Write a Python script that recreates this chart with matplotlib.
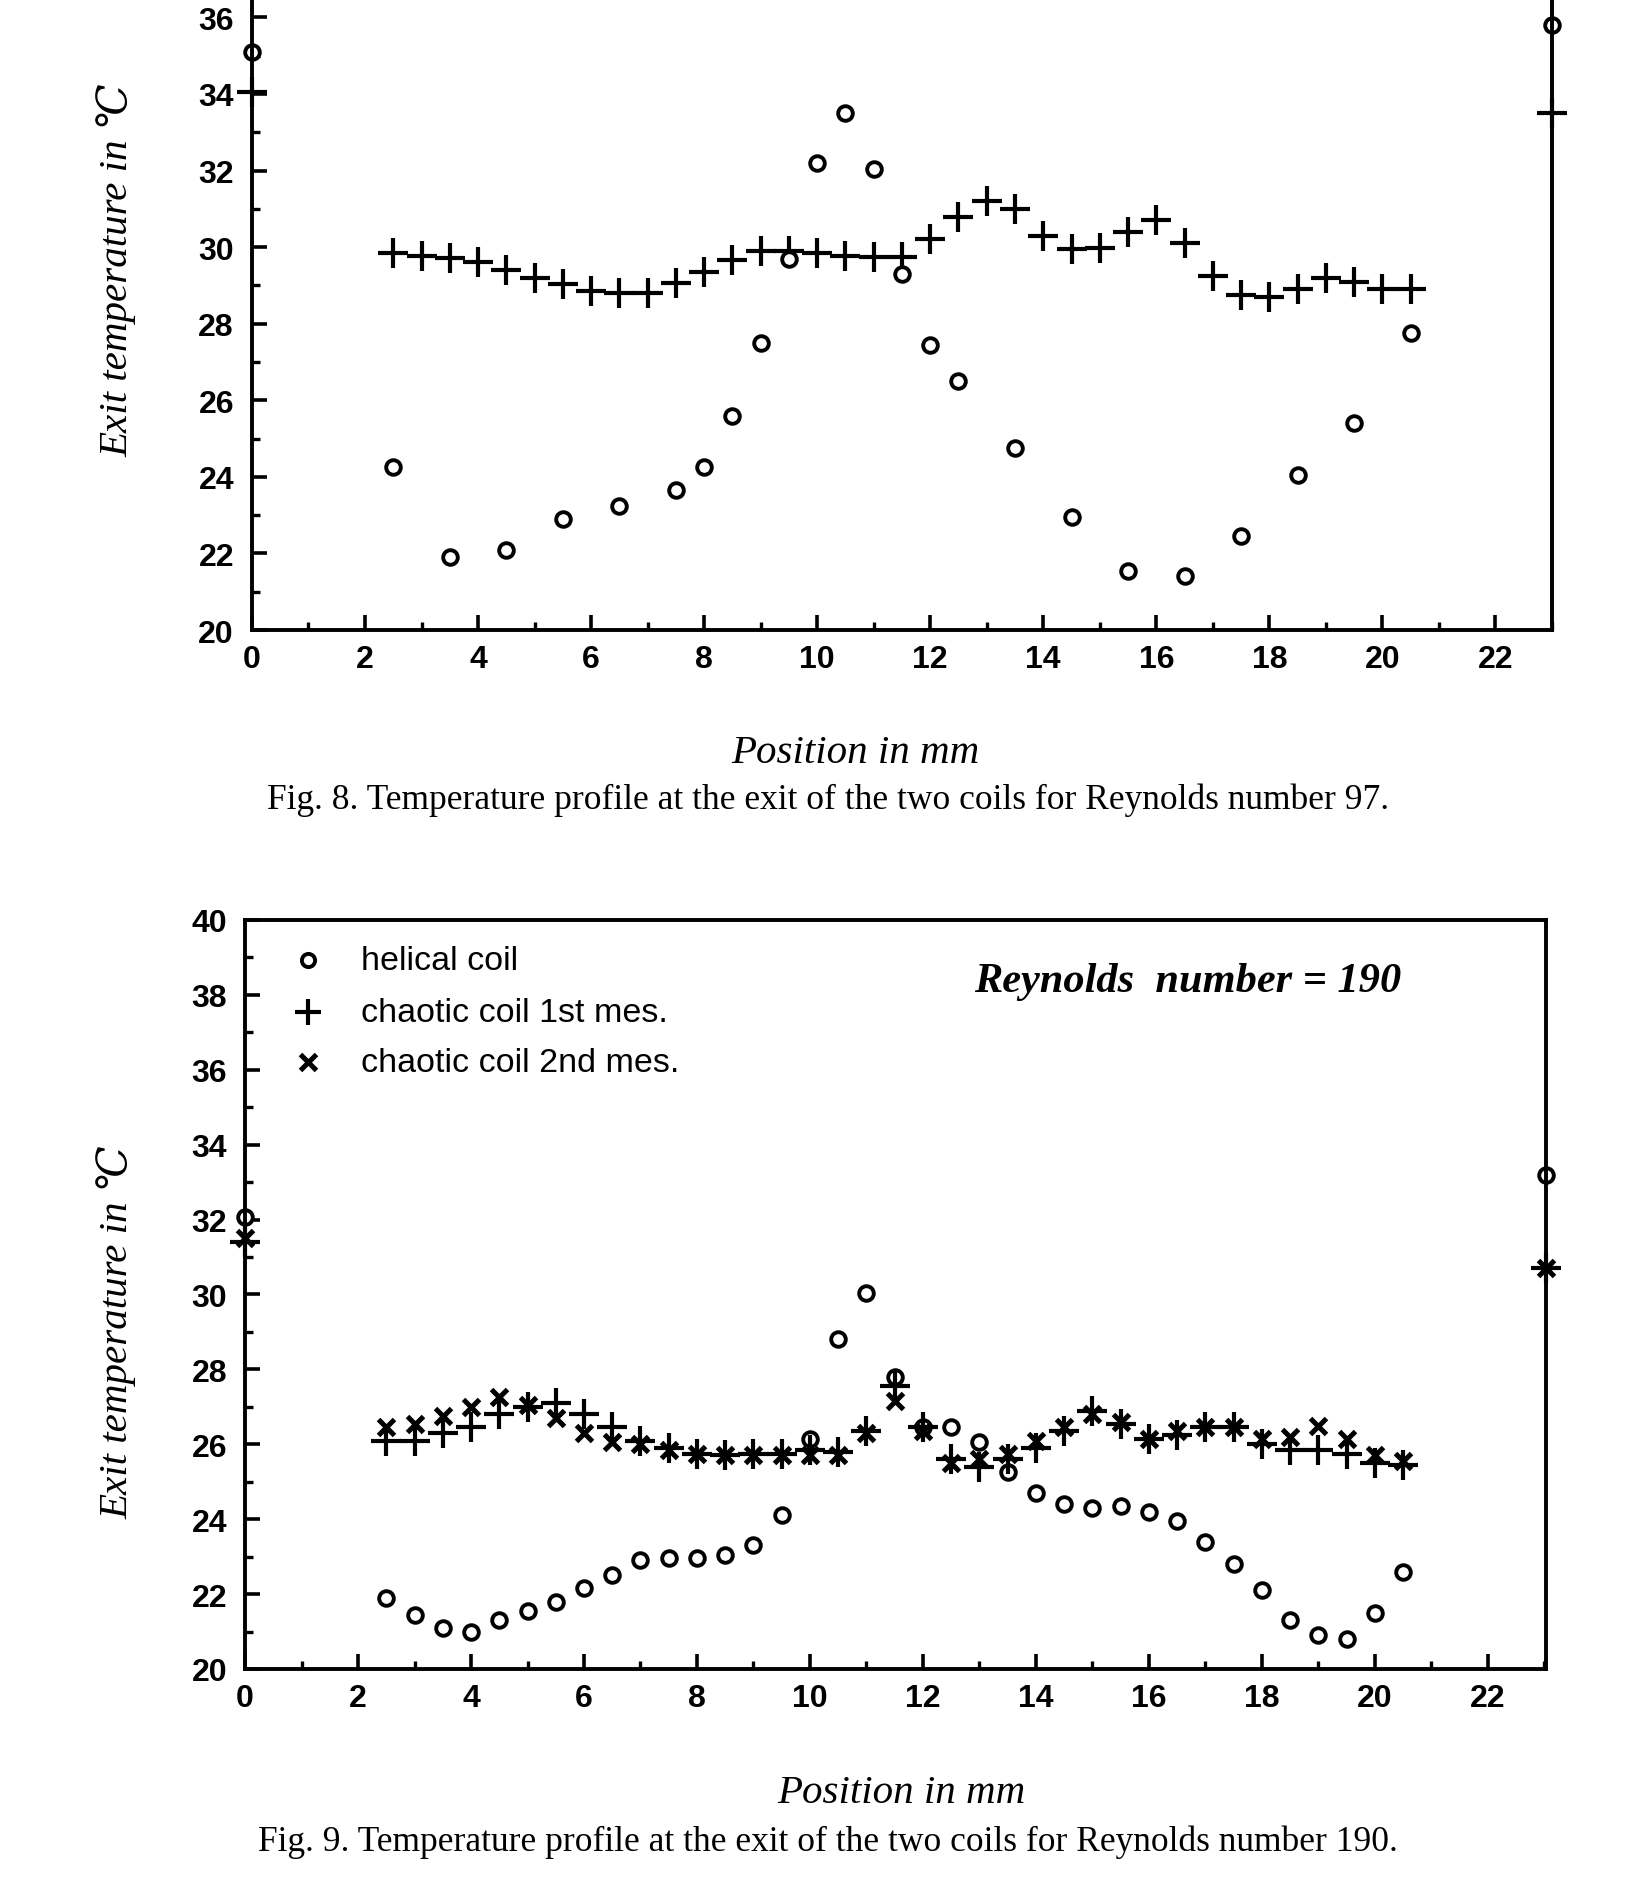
import matplotlib
matplotlib.use("Agg")
import matplotlib.pyplot as plt
from matplotlib.ticker import MultipleLocator

# ---------------- data: Fig. 8 (Re = 97) ----------------
helical8_x = [0.0, 2.5, 3.5, 4.5, 5.5, 6.5, 7.5, 8.0, 8.5, 9.0, 9.5, 10.0, 10.5, 11.0,
              11.5, 12.0, 12.5, 13.5, 14.5, 15.5, 16.5, 17.5, 18.5, 19.5, 20.5, 23.0]
helical8_y = [35.1, 24.25, 21.9, 22.1, 22.9, 23.25, 23.65, 24.25, 25.6, 27.5, 29.7, 32.2,
              33.5, 32.05, 29.3, 27.45, 26.5, 24.75, 22.95, 21.55, 21.4, 22.45, 24.05,
              25.4, 27.75, 35.8]
chaotic8_x = [0.0, 2.5, 3.0, 3.5, 4.0, 4.5, 5.0, 5.5, 6.0, 6.5, 7.0, 7.5, 8.0, 8.5, 9.0,
              9.5, 10.0, 10.5, 11.0, 11.5, 12.0, 12.5, 13.0, 13.5, 14.0, 14.5, 15.0, 15.5,
              16.0, 16.5, 17.0, 17.5, 18.0, 18.5, 19.0, 19.5, 20.0, 20.5, 23.0]
chaotic8_y = [34.05, 29.84, 29.78, 29.72, 29.6, 29.4, 29.2, 29.03, 28.85, 28.8, 28.8,
              29.06, 29.34, 29.66, 29.9, 29.9, 29.84, 29.78, 29.75, 29.75, 30.2, 30.8,
              31.2, 31.0, 30.3, 29.94, 29.97, 30.4, 30.7, 30.1, 29.25, 28.75, 28.7, 28.9,
              29.2, 29.1, 28.9, 28.9, 33.5]

# ---------------- data: Fig. 9 (Re = 190) ----------------
helical9_x = [0.0, 2.5, 3.0, 3.5, 4.0, 4.5, 5.0, 5.5, 6.0, 6.5, 7.0, 7.5, 8.0, 8.5, 9.0,
              9.5, 10.0, 10.5, 11.0, 11.5, 12.0, 12.5, 13.0, 13.5, 14.0, 14.5, 15.0, 15.5,
              16.0, 16.5, 17.0, 17.5, 18.0, 18.5, 19.0, 19.5, 20.0, 20.5, 23.03]
helical9_y = [32.08, 21.9, 21.45, 21.1, 21.0, 21.3, 21.55, 21.8, 22.15, 22.5, 22.9, 22.95,
              22.95, 23.05, 23.3, 24.1, 26.15, 28.8, 30.05, 27.8, 26.45, 26.45, 26.05,
              25.25, 24.7, 24.4, 24.3, 24.35, 24.2, 23.95, 23.4, 22.8, 22.1, 21.3, 20.9,
              20.8, 21.5, 22.6, 33.2]
chaotic9a_x = [0.0, 2.5, 3.0, 3.5, 4.0, 4.5, 5.0, 5.5, 6.0, 6.5, 7.0, 7.5, 8.0, 8.5, 9.0,
               9.5, 10.0, 10.5, 11.0, 11.5, 12.0, 12.5, 13.0, 13.5, 14.0, 14.5, 15.0, 15.5,
               16.0, 16.5, 17.0, 17.5, 18.0, 18.5, 19.0, 19.5, 20.0, 20.5, 23.03]
chaotic9a_y = [31.4, 26.1, 26.1, 26.3, 26.45, 26.8, 27.0, 27.1, 26.8, 26.45, 26.1, 25.9,
               25.75, 25.7, 25.75, 25.75, 25.85, 25.8, 26.35, 27.55, 26.45, 25.6, 25.4,
               25.6, 25.9, 26.35, 26.9, 26.55, 26.15, 26.25, 26.45, 26.45, 26.0, 25.85,
               25.85, 25.75, 25.5, 25.45, 30.7]
chaotic9b_x = chaotic9a_x
chaotic9b_y = [31.5, 26.45, 26.55, 26.75, 27.0, 27.25, 27.05, 26.7, 26.3, 26.05, 26.0,
               25.85, 25.75, 25.7, 25.7, 25.7, 25.7, 25.7, 26.3, 27.15, 26.35, 25.5, 25.6,
               25.75, 26.1, 26.45, 26.8, 26.6, 26.15, 26.35, 26.45, 26.45, 26.15, 26.2,
               26.5, 26.15, 25.7, 25.55, 30.7]

legend_labels = ["helical coil", "chaotic coil 1st mes.", "chaotic coil 2nd mes."]
xticks = list(range(0, 23, 2))

SERIF = ["Liberation Serif", "DejaVu Serif"]
SANS = ["Liberation Sans", "DejaVu Sans"]

fig = plt.figure(figsize=(16.48, 18.81), dpi=100)

circ = dict(marker="o", ls="none", ms=10.5, mfc="white", mec="black", mew=2.8, clip_on=False)
plus = dict(marker="+", ls="none", ms=21, mec="black", mew=3.0, clip_on=False)
cross = dict(marker="x", ls="none", ms=12, mec="black", mew=3.6, clip_on=False)


def style_axes(ax, xmax, ymax, show_top):
    ax.set_xlim(0, xmax)
    for s in ax.spines.values():
        s.set_linewidth(2.8)
    ax.spines["top"].set_visible(show_top)
    ax.set_xticks(xticks)
    ax.xaxis.set_minor_locator(MultipleLocator(1))
    ax.set_yticks(list(range(20, int(ymax) + 1, 2)))
    ax.yaxis.set_minor_locator(MultipleLocator(1))
    ax.tick_params(which="major", direction="in", length=11, width=2.6,
                   labelsize=23, top=False, right=False)
    ax.tick_params(axis="x", which="major", pad=10)
    ax.tick_params(axis="y", which="major", pad=13)
    ax.tick_params(which="minor", direction="in", length=6, width=2.4,
                   top=False, right=False)
    for lab in ax.get_xticklabels() + ax.get_yticklabels():
        lab.set_family(SANS)
        lab.set_weight("bold")
    ax.set_ylim(20, ymax)


# ---- top panel (Fig. 8) ----
ax1 = fig.add_axes([0.1529, 0.6645, 0.7888, 0.3355])
ax1.plot(chaotic8_x, chaotic8_y, **plus)
ax1.plot(helical8_x, helical8_y, **circ)
style_axes(ax1, 23.0, 36.48, False)
fig.text(0.0706, 0.8565, "Exit temperature in ℃", family=SERIF, style="italic",
         fontsize=29.5, rotation=90, ha="center", va="center")
fig.text(0.5192, 0.5994, "Position in mm", family=SERIF, style="italic",
         fontsize=29.5, ha="center", va="center")
fig.text(0.5024, 0.5745,
         "Fig. 8. Temperature profile at the exit of the two coils for Reynolds number 97.",
         family=SERIF, fontsize=25.5, ha="center", va="center")

# ---- bottom panel (Fig. 9) ----
ax2 = fig.add_axes([0.1487, 0.1122, 0.7894, 0.3982])
ax2.plot(helical9_x, helical9_y, **circ)
ax2.plot(chaotic9a_x, chaotic9a_y, **plus)
ax2.plot(chaotic9b_x, chaotic9b_y, **cross)
style_axes(ax2, 23.03, 40, True)
fig.text(0.0706, 0.2919, "Exit temperature in ℃", family=SERIF, style="italic",
         fontsize=29.5, rotation=90, ha="center", va="center")
fig.text(0.5468, 0.0463, "Position in mm", family=SERIF, style="italic",
         fontsize=29.5, ha="center", va="center")
fig.text(0.5024, 0.0207,
         "Fig. 9. Temperature profile at the exit of the two coils for Reynolds number 190.",
         family=SERIF, fontsize=25.5, ha="center", va="center")

# legend (drawn in axes coordinates)
leg_styles = [dict(circ, ms=9.5), dict(plus, ms=19), dict(cross, ms=11)]
leg_rows = [0.946, 0.877, 0.810]
for lab, st, yy in zip(legend_labels, leg_styles, leg_rows):
    ax2.plot([0.0487], [yy], transform=ax2.transAxes, **st)
    ax2.text(0.0893, yy, lab, transform=ax2.transAxes, family=SANS, fontsize=24.5,
             ha="left", va="center")

ax2.text(0.7244, 0.919, "Reynolds  number = 190", transform=ax2.transAxes,
         family=SERIF, style="italic", weight="bold", fontsize=30.5,
         ha="center", va="center")

fig.savefig("out.png", dpi=100)
